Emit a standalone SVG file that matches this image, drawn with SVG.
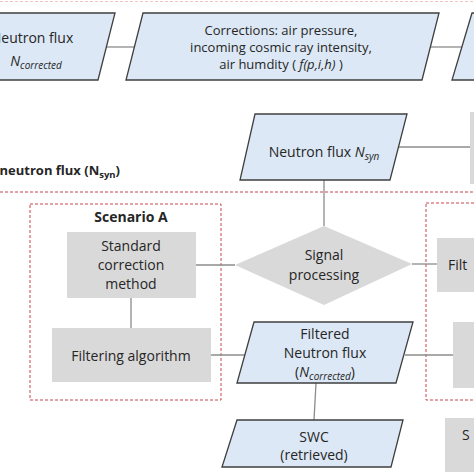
<svg xmlns="http://www.w3.org/2000/svg" width="474" height="474" viewBox="0 0 474 474">
<style>
text{font-family:"Open Sans","Liberation Sans",Arial,sans-serif;font-size:14px;fill:#262626;text-anchor:middle}
.b{font-weight:bold}
.i{font-style:italic}
.sub{font-size:10px;font-style:italic}
.para{fill:#dce8f5;stroke:#3f3f3f;stroke-width:1.3}
.box{fill:#d9d9d9}
.con{stroke:#8c8c8c;stroke-width:1.3;fill:none}
.dash{fill:none;stroke:#c9474a;stroke-width:1;stroke-dasharray:3,2}
</style>
<rect width="474" height="474" fill="#ffffff"/>
<line x1="0" y1="1.5" x2="474" y2="1.5" stroke="#f2c4c4" stroke-width="1.2" stroke-dasharray="3,2"/>
<line x1="0" y1="192" x2="474" y2="192" class="dash"/>
<rect id="scenarioA" x="30" y="204" width="191" height="196" class="dash"/>
<rect id="scenarioB" x="426" y="203" width="60" height="197" class="dash"/>
<g id="connectors">
<line x1="107" y1="47" x2="134" y2="47" class="con"/>
<line x1="431" y1="47" x2="463" y2="47" class="con"/>
<line x1="398" y1="147" x2="470" y2="147" class="con"/>
<line x1="324" y1="180" x2="324" y2="226" class="con"/>
<line x1="196" y1="265" x2="235" y2="265" class="con"/>
<line x1="412" y1="264" x2="437" y2="264" class="con"/>
<line x1="131" y1="298" x2="131" y2="328" class="con"/>
<line x1="211" y1="355" x2="245" y2="355" class="con"/>
<line x1="405" y1="355" x2="453" y2="355" class="con"/>
<line x1="316" y1="383" x2="314" y2="420" class="con"/>
</g>
<g id="n_corrected_top">
<polygon class="para" points="-40,13 115,13 98,80 -57,80"/>
<text x="32" y="43">Neutron flux</text>
<text x="36" y="66"><tspan class="i">N</tspan><tspan class="sub" dy="3">corrected</tspan></text>
</g>
<g id="corrections">
<polygon class="para" points="143,13 439,13 422,80 126,80"/>
<text x="281" y="35" style="font-size:13px">Corrections: air pressure,</text>
<text x="281" y="52" style="font-size:13px">incoming cosmic ray intensity,</text>
<text x="281" y="69" style="font-size:13px">air humdity ( <tspan class="i">f(p,i,h)</tspan> )</text>
</g>
<g id="top_right">
<polygon class="para" points="472,13 520,13 503,80 452,80"/>
</g>
<g id="label_nsyn">
<text x="120" y="175" class="b" style="text-anchor:end;font-size:13px">Synthetic neutron flux (N<tspan style="font-size:9.5px" dy="3">syn</tspan><tspan dy="-3">)</tspan></text>
</g>
<g id="n_syn">
<polygon class="para" points="255,114 407,114 390,180 240,180"/>
<text x="324" y="157">Neutron flux <tspan class="i">N</tspan><tspan class="sub" dy="3">syn</tspan></text>
</g>
<g id="right_top_box">
<rect class="box" x="470" y="112" width="10" height="72"/>
</g>
<text x="131" y="222" class="b">Scenario A</text>
<g id="standard">
<rect class="box" x="67" y="232" width="129" height="66"/>
<text x="131" y="251">Standard</text>
<text x="131" y="270">correction</text>
<text x="131" y="289">method</text>
</g>
<g id="filtering">
<rect class="box" x="52" y="328" width="159" height="54"/>
<text x="131" y="361">Filtering algorithm</text>
</g>
<g id="signal">
<polygon points="324,226 412,264 324,305 235,265" fill="#d9d9d9"/>
<text x="324" y="260">Signal</text>
<text x="324" y="280">processing</text>
</g>
<g id="filt_right">
<rect class="box" x="437" y="238" width="40" height="54"/>
<text x="448" y="270" style="text-anchor:start">Filt</text>
</g>
<g id="filtered">
<polygon class="para" points="254,322 413,322 396,383 237,383"/>
<text x="325" y="339">Filtered</text>
<text x="325" y="358">Neutron flux</text>
<text x="325" y="377">(<tspan class="i">N</tspan><tspan class="sub" dy="3">corrected</tspan><tspan dy="-3">)</tspan></text>
</g>
<g id="filtered_right">
<rect class="box" x="453" y="322" width="30" height="66"/>
</g>
<g id="swc">
<polygon class="para" points="237,420 403,420 391,467 222,467"/>
<text x="314" y="442">SWC</text>
<text x="314" y="460">(retrieved)</text>
</g>
<g id="s_right">
<rect class="box" x="445" y="418" width="40" height="54"/>
<text x="462" y="440" style="text-anchor:start">S</text>
</g>
</svg>
